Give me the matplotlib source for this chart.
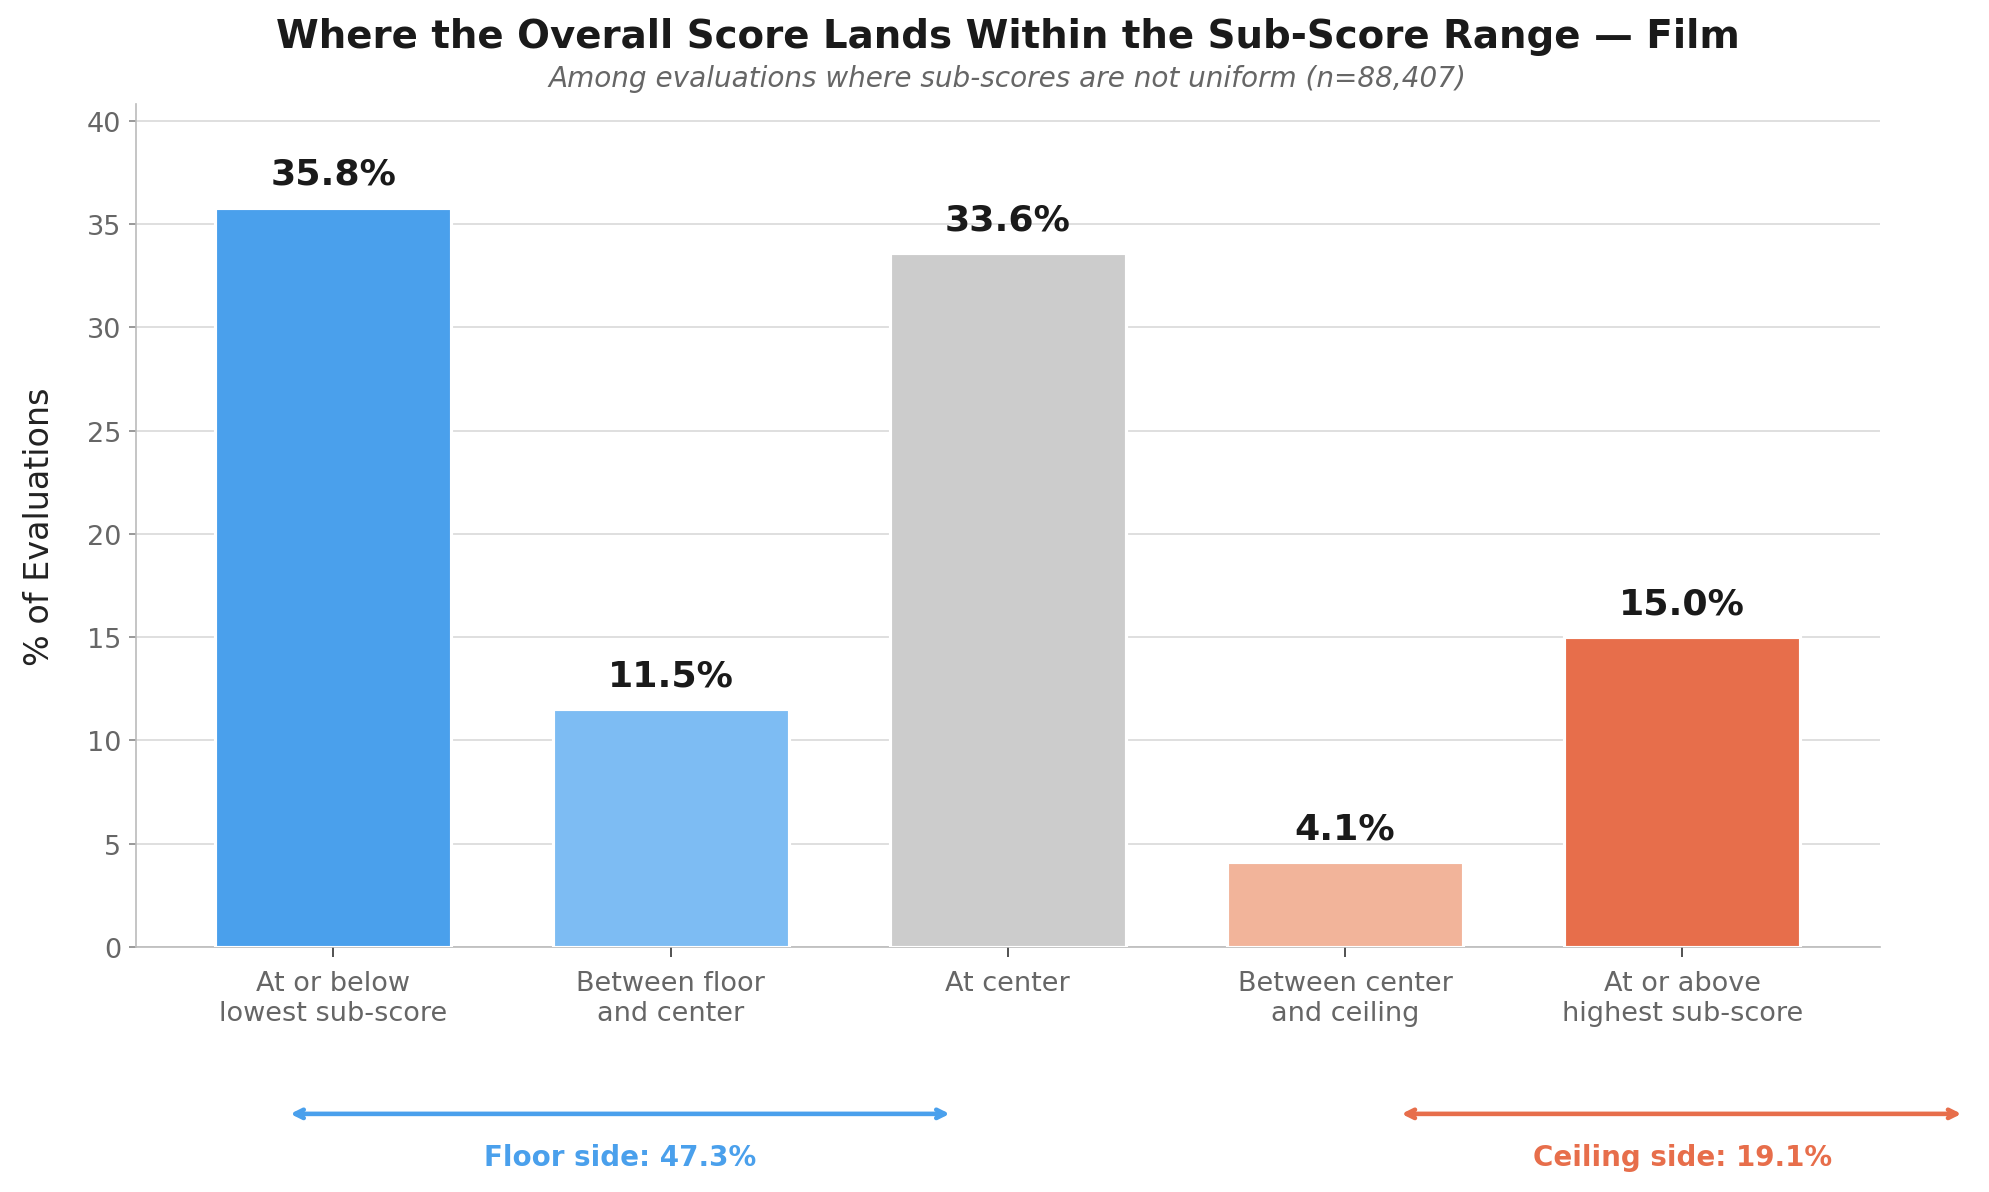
import matplotlib
matplotlib.use("Agg")
import matplotlib.pyplot as plt

categories = ["At or below\nlowest sub-score", "Between floor\nand center", "At center",
              "Between center\nand ceiling", "At or above\nhighest sub-score"]
values = [35.8, 11.5, 33.6, 4.1, 15.0]
colors = ["#4AA0EC", "#7DBCF3", "#CCCCCC", "#F2B49A", "#E76E4B"]
floor_total = 47.3
ceiling_total = 19.1

fig = plt.figure(figsize=(13.26, 7.953), dpi=150)
ax = fig.add_axes([0.0684, 0.2054, 0.8766, 0.7066])

x = list(range(len(categories)))
ax.bar(x, values, width=0.7, color=colors, edgecolor="white", linewidth=1.5, zorder=3)
ax.set_ylim(0, max(values) * 1.14)
ax.set_yticks([0, 5, 10, 15, 20, 25, 30, 35, 40])
ax.set_xticks(x)
ax.set_xticklabels(categories, fontsize=13, color="#666666")
ax.tick_params(axis="y", labelsize=13, labelcolor="#666666", color="#888888")
ax.tick_params(axis="x", length=5, color="#333333", pad=6)
ax.grid(axis="y", color="#dddddd", linewidth=0.9, zorder=0)
ax.set_axisbelow(True)
for s in ["top", "right"]:
    ax.spines[s].set_visible(False)
for s in ["left", "bottom"]:
    ax.spines[s].set_color("#bbbbbb")
ax.set_ylabel("% of Evaluations", fontsize=16, color="#222222", labelpad=15)

for xi, v in zip(x, values):
    ax.text(xi, v + 0.8, f"{v:.1f}%", ha="center", va="bottom", fontsize=17.4,
            fontweight="bold", color="#1a1a1a")

trans = ax.get_xaxis_transform()
blue = colors[0]
red = colors[4]
ax.annotate("", xy=(-0.14, -0.198), xytext=(1.84, -0.198), xycoords=trans, textcoords=trans,
            arrowprops=dict(arrowstyle="<->", color=blue, lw=2.2), annotation_clip=False)
ax.text(0.85, -0.249, f"Floor side: {floor_total:.1f}%", transform=trans, ha="center", va="center",
        fontsize=13.3, fontweight="bold", color=blue)
ax.annotate("", xy=(3.155, -0.198), xytext=(4.84, -0.198), xycoords=trans, textcoords=trans,
            arrowprops=dict(arrowstyle="<->", color=red, lw=2.2), annotation_clip=False)
ax.text(4.0, -0.249, f"Ceiling side: {ceiling_total:.1f}%", transform=trans, ha="center", va="center",
        fontsize=13.3, fontweight="bold", color=red)

cx = 0.0684 + 0.8766 / 2
fig.text(cx, 1 - 37 / 1193, "Where the Overall Score Lands Within the Sub-Score Range \u2014 Film",
         ha="center", va="center", fontsize=18.6, fontweight="bold", color="#1a1a1a")
fig.text(cx, 1 - 79 / 1193, "Among evaluations where sub-scores are not uniform (n=88,407)",
         ha="center", va="center", fontsize=13.4, style="italic", color="#666666")

fig.savefig("out.png", dpi=150)
